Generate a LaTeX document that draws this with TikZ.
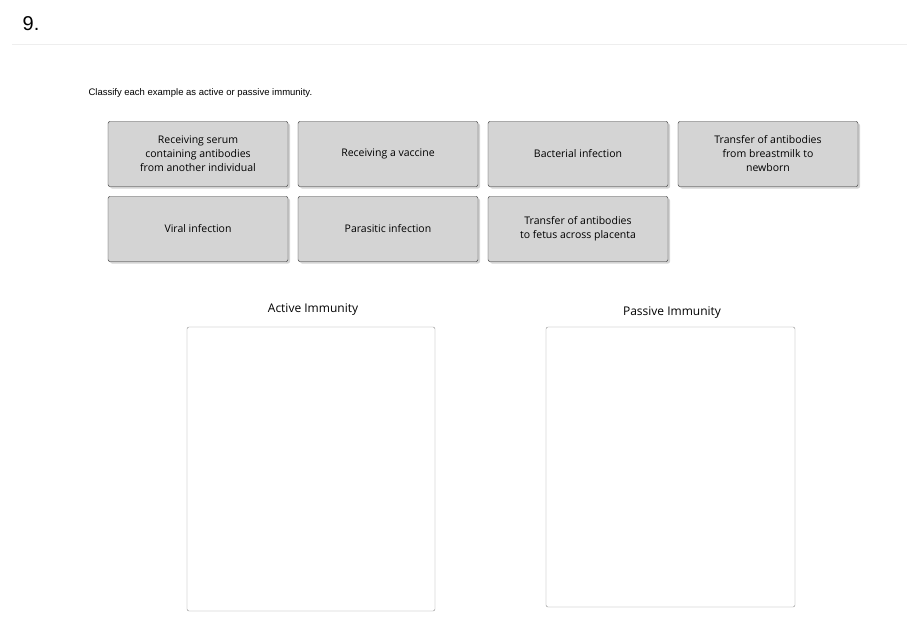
\documentclass[tikz,border=0pt]{standalone}
\usepackage{fontspec}
\setmainfont{Open Sans}
\newfontfamily\arialfont{Liberation Sans}
\usetikzlibrary{shadows}
\definecolor{cardgray}{HTML}{D4D4D4}
\definecolor{rulegray}{HTML}{EEEEEE}
\begin{document}
\begin{tikzpicture}[x=1pt,y=-1pt,
    card/.style={draw=black!85,fill=cardgray,rounded corners=2pt,minimum width=180pt,minimum height=65pt,
      align=center,font=\fontsize{10.5}{14}\selectfont,drop shadow={shadow xshift=2pt,shadow yshift=-2pt,opacity=.35}},
    dropbox/.style={draw=black!45,rounded corners=2pt}]
  \useasboundingbox (0,0) rectangle (907,622);
  % heading
  \node (num) at (31,24) {\arialfont\fontsize{20}{22}\selectfont 9.};
  \draw[rulegray] (12,44) -- (907,44);
  \node[anchor=west] (task) at (85,93) {\arialfont\fontsize{9.5}{11}\selectfont Classify each example as active or passive immunity.};
  % cards, first row
  \node[card] (serum) at (198,154) {Receiving serum\\containing antibodies\\from another individual};
  \node[card] (vaccine) at (388,154) {Receiving a vaccine};
  \node[card] (bact) at (578,154) {Bacterial infection};
  \node[card] (milk) at (768,154) {Transfer of antibodies\\from breastmilk to\\newborn};
  % cards, second row
  \node[card] (viral) at (198,229) {Viral infection};
  \node[card] (parasite) at (388,229) {Parasitic infection};
  \node[card] (fetus) at (578,229) {Transfer of antibodies\\to fetus across placenta};
  % drop targets
  \node (actlabel) at (313,310) {\fontsize{12}{14}\selectfont Active Immunity};
  \node (paslabel) at (672,313) {\fontsize{12}{14}\selectfont Passive Immunity};
  \draw[dropbox] (187,327) rectangle (435,611);
  \draw[dropbox] (546,327) rectangle (795,607);
\end{tikzpicture}
\end{document}
